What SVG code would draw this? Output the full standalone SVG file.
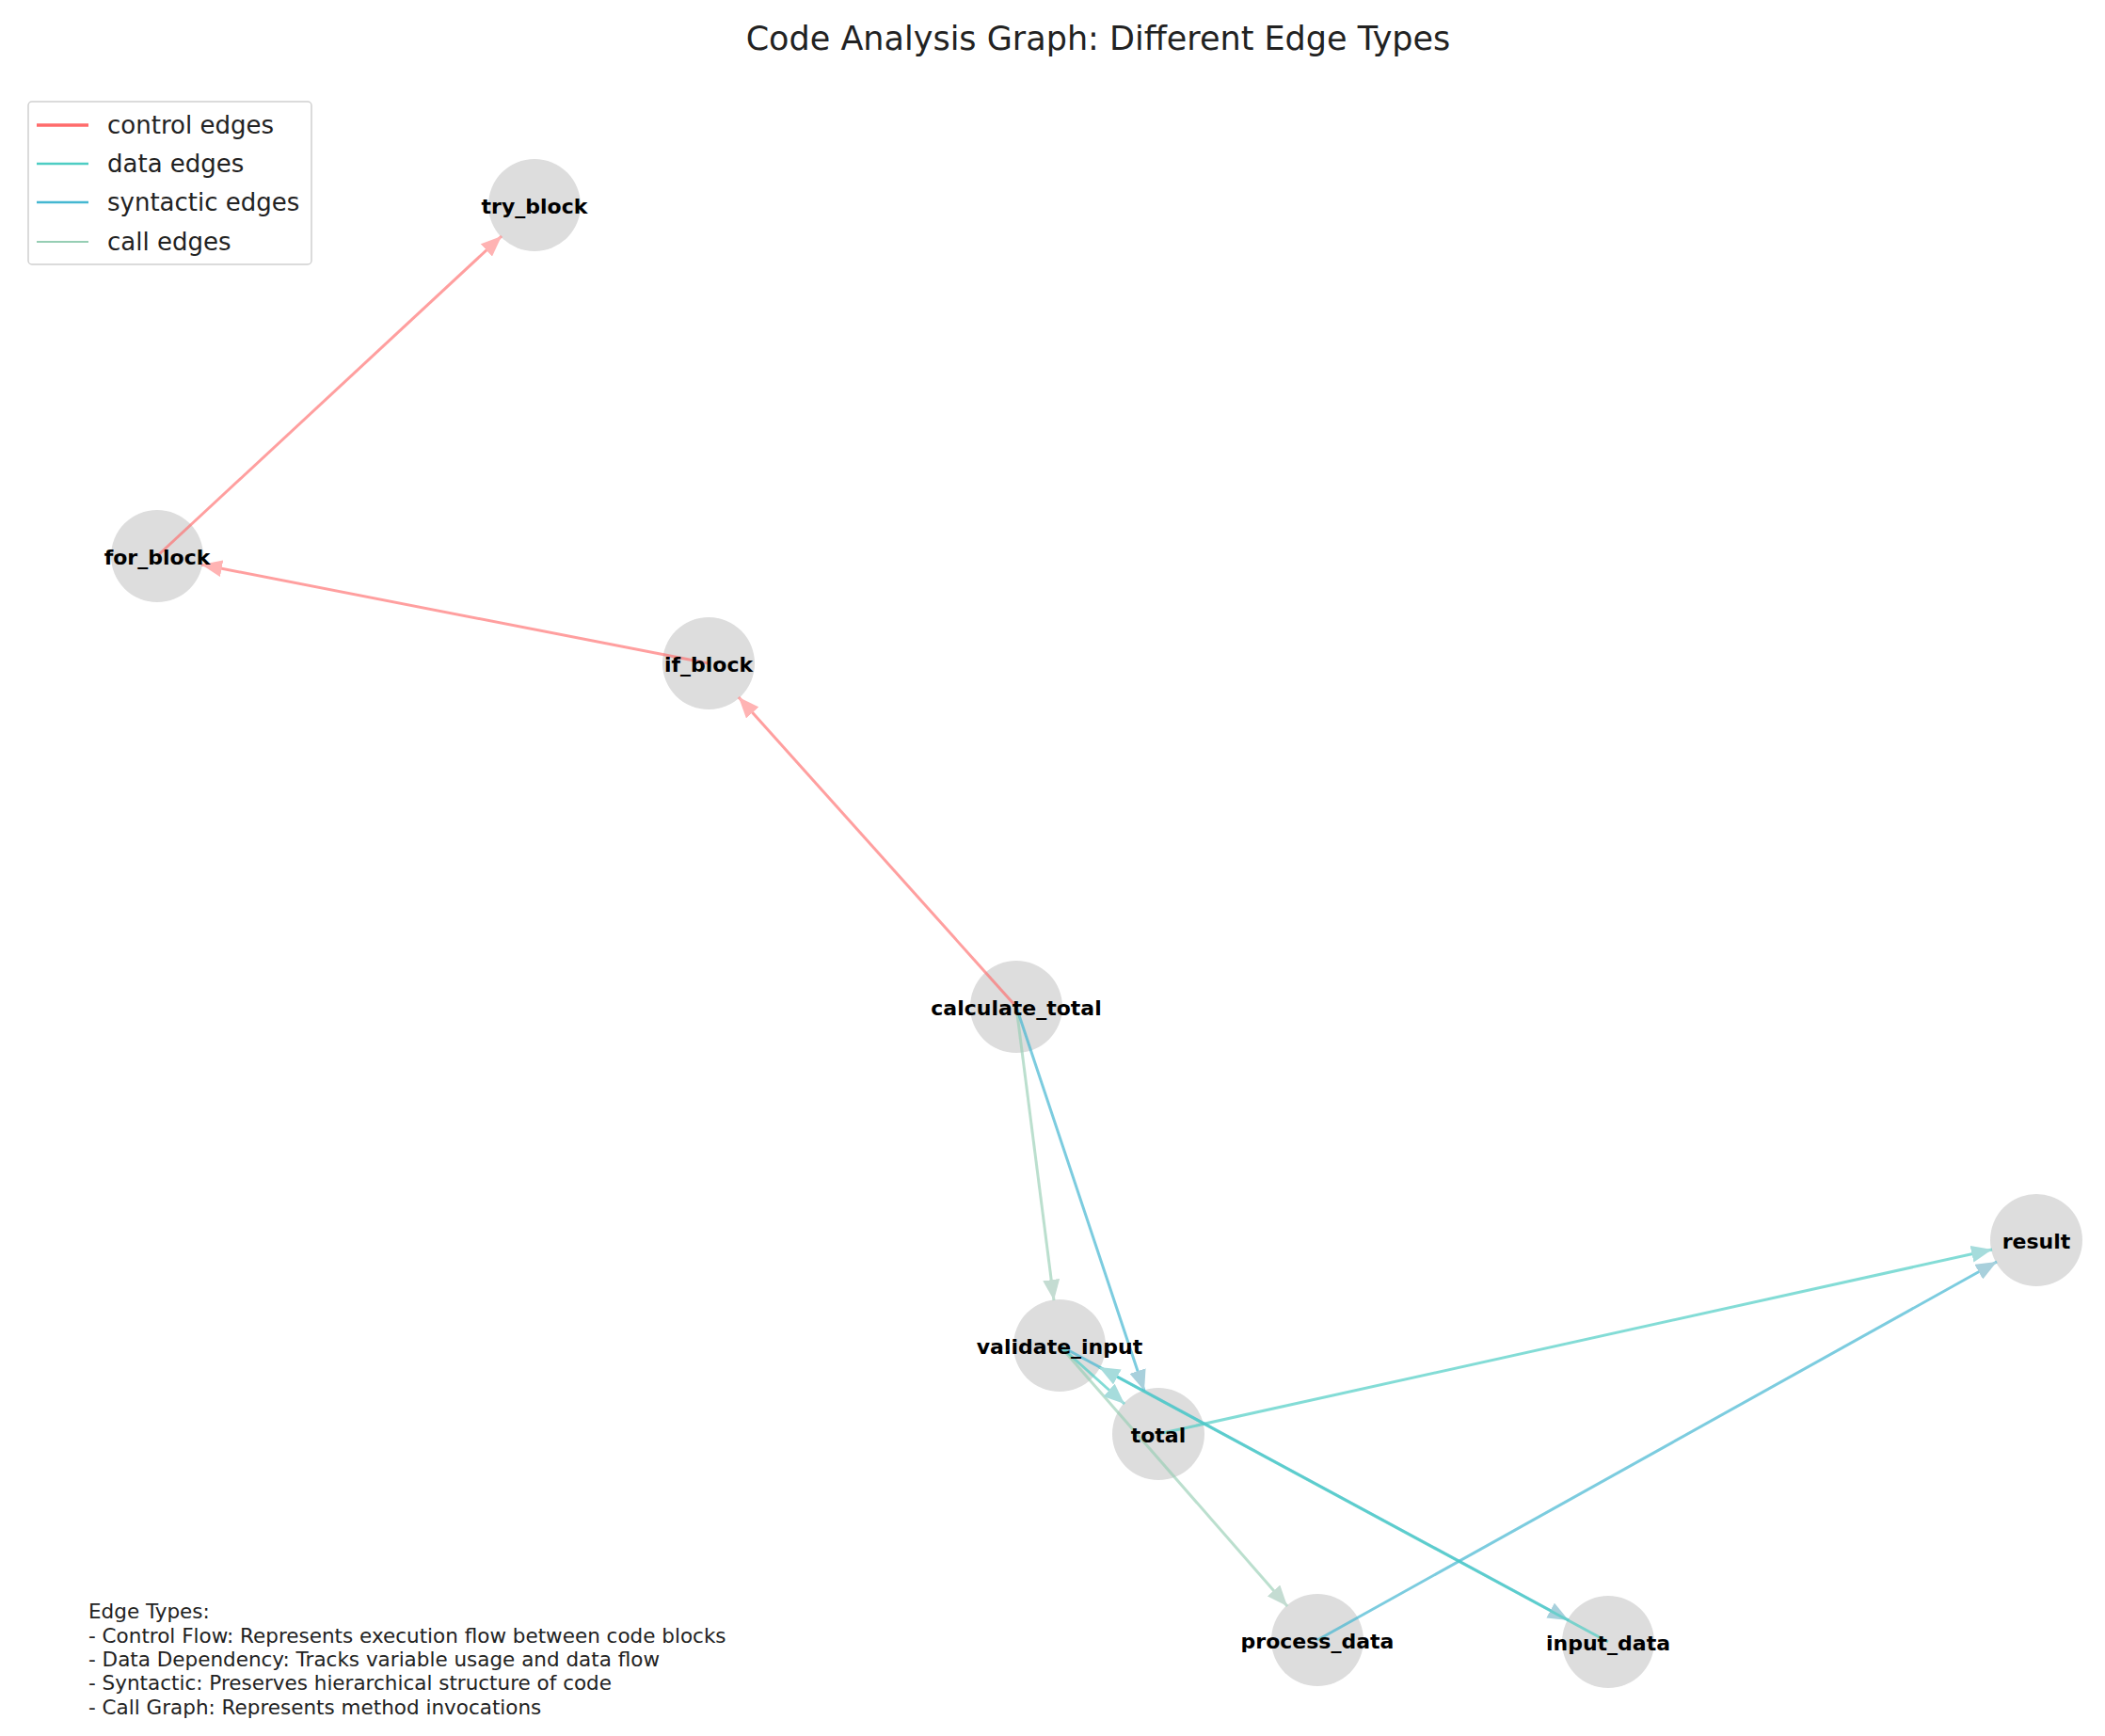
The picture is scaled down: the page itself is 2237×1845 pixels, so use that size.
<svg xmlns="http://www.w3.org/2000/svg" width="2237" height="1845" viewBox="0 0 2237 1845">
<style>
.node{fill:#dddddd}
.lbl{font-family:"DejaVu Sans",sans-serif;font-weight:bold;font-size:22px;fill:#000;text-anchor:middle;dominant-baseline:central}
.e{stroke-width:3;fill:none}
.ctl{stroke:#ff6b6b;stroke-opacity:.65}
.dat{stroke:#4ecdc4;stroke-opacity:.7}
.syn{stroke:#45b7d1;stroke-opacity:.7}
.cal{stroke:#96ceb4;stroke-opacity:.65}
.t{font-family:"DejaVu Sans",sans-serif;fill:#222}
</style>
<defs>
<marker id="aC" markerUnits="userSpaceOnUse" markerWidth="22" markerHeight="18" refX="22" refY="9" orient="auto"><path d="M0,0L22,9L0,18z" fill="#ffb3b3"/></marker>
<marker id="aD" markerUnits="userSpaceOnUse" markerWidth="22" markerHeight="18" refX="22" refY="9" orient="auto"><path d="M0,0L22,9L0,18z" fill="#a6dcdc"/></marker>
<marker id="aS" markerUnits="userSpaceOnUse" markerWidth="22" markerHeight="18" refX="22" refY="9" orient="auto"><path d="M0,0L22,9L0,18z" fill="#a8d0dc"/></marker>
<marker id="aL" markerUnits="userSpaceOnUse" markerWidth="22" markerHeight="18" refX="22" refY="9" orient="auto"><path d="M0,0L22,9L0,18z" fill="#c4dcd2"/></marker>
</defs>
<rect width="2237" height="1845" fill="#fff"/>
<text class="t" x="1167" y="53" font-size="35" text-anchor="middle">Code Analysis Graph: Different Edge Types</text>
<g id="legend">
<rect x="30" y="108" width="301" height="173" rx="4" fill="#fff" stroke="#d0d0d0" stroke-width="1.5"/>
<line x1="39" y1="133" x2="94" y2="133" stroke="#ff6b6b" stroke-width="3.5"/>
<line x1="39" y1="174" x2="94" y2="174" stroke="#4ecdc4" stroke-width="2.5"/>
<line x1="39" y1="215" x2="94" y2="215" stroke="#45b7d1" stroke-width="2.5"/>
<line x1="39" y1="257" x2="94" y2="257" stroke="#96ceb4" stroke-width="2"/>
<text class="t" x="114" y="142" font-size="26">control edges</text>
<text class="t" x="114" y="183" font-size="26">data edges</text>
<text class="t" x="114" y="224" font-size="26">syntactic edges</text>
<text class="t" x="114" y="266" font-size="26">call edges</text>
</g>
<g id="n-try_block"><circle class="node" cx="568" cy="218" r="49"/></g>
<g id="n-for_block"><circle class="node" cx="167" cy="591" r="49"/></g>
<g id="n-if_block"><circle class="node" cx="753" cy="705" r="49"/></g>
<g id="n-calculate_total"><circle class="node" cx="1080" cy="1070" r="49"/></g>
<g id="n-validate_input"><circle class="node" cx="1126" cy="1430" r="49"/></g>
<g id="n-total"><circle class="node" cx="1231" cy="1524" r="49"/></g>
<g id="n-result"><circle class="node" cx="2164" cy="1318" r="49"/></g>
<g id="n-process_data"><circle class="node" cx="1400" cy="1743" r="49"/></g>
<g id="n-input_data"><circle class="node" cx="1709" cy="1745" r="49"/></g>
<g id="edges">
<line class="e ctl" x1="167" y1="591" x2="533" y2="251" marker-end="url(#aC)"/>
<line class="e ctl" x1="753" y1="705" x2="214" y2="600" marker-end="url(#aC)"/>
<line class="e ctl" x1="1080" y1="1070" x2="785" y2="741" marker-end="url(#aC)"/>
<line class="e cal" x1="1080" y1="1070" x2="1120" y2="1382" marker-end="url(#aL)"/>
<line class="e cal" x1="1126" y1="1430" x2="1368" y2="1707" marker-end="url(#aL)"/>
<line class="e syn" x1="1080" y1="1070" x2="1216" y2="1478" marker-end="url(#aS)"/>
<line class="e syn" x1="1400" y1="1743" x2="2122" y2="1341" marker-end="url(#aS)"/>
<line class="e dat" x1="1231" y1="1524" x2="2117" y2="1328" marker-end="url(#aD)"/>
<line class="e dat" x1="1126" y1="1430" x2="1195" y2="1492" marker-end="url(#aD)"/>
<line class="e syn" x1="1126" y1="1430" x2="1667" y2="1722" marker-end="url(#aS)"/>
<line class="e dat" x1="1709" y1="1745" x2="1168" y2="1453" marker-end="url(#aD)"/>
</g>
<g id="labels">
<text class="lbl" x="568" y="219">try_block</text>
<text class="lbl" x="167" y="592">for_block</text>
<text class="lbl" x="753" y="706">if_block</text>
<text class="lbl" x="1080" y="1071">calculate_total</text>
<text class="lbl" x="1126" y="1431">validate_input</text>
<text class="lbl" x="1231" y="1525">total</text>
<text class="lbl" x="2164" y="1319">result</text>
<text class="lbl" x="1400" y="1744">process_data</text>
<text class="lbl" x="1709" y="1746">input_data</text>
</g>
<g id="note" class="t" font-size="21.5">
<text x="94" y="1720">Edge Types:</text>
<text x="94" y="1746">- Control Flow: Represents execution flow between code blocks</text>
<text x="94" y="1771">- Data Dependency: Tracks variable usage and data flow</text>
<text x="94" y="1796">- Syntactic: Preserves hierarchical structure of code</text>
<text x="94" y="1822">- Call Graph: Represents method invocations</text>
</g>
</svg>
